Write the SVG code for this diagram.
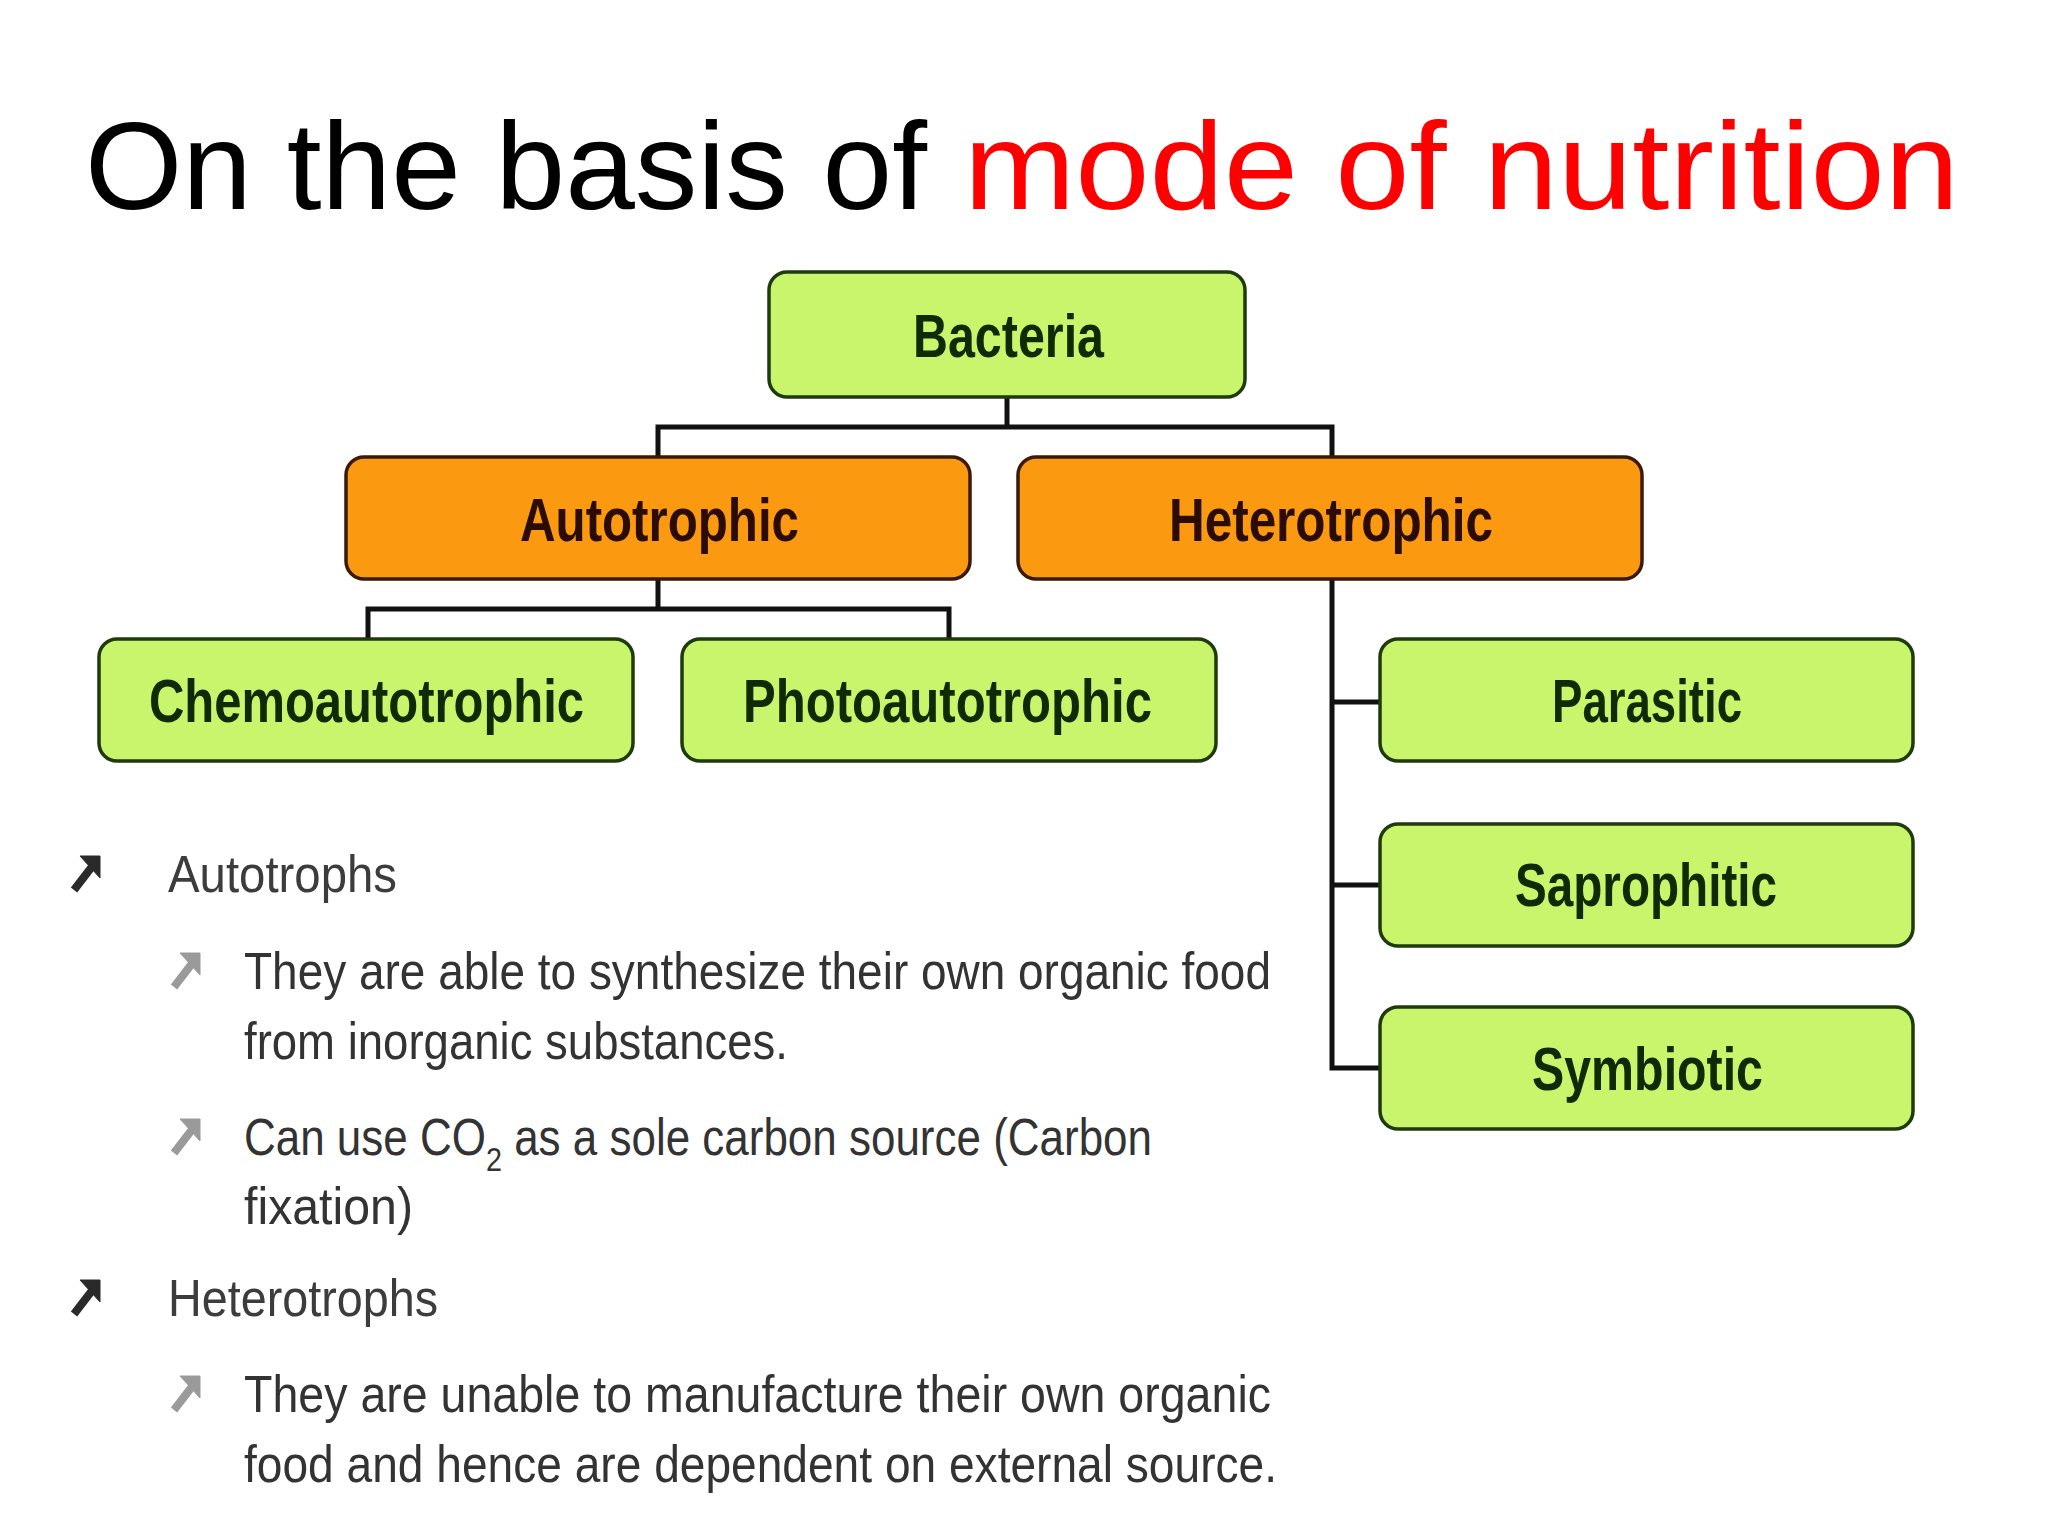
<svg xmlns="http://www.w3.org/2000/svg" width="2048" height="1536" viewBox="0 0 2048 1536">
<style>
.title{font-family:"Liberation Sans","Open Sans",sans-serif;font-size:124px}
.box-g{fill:#c8f56b;stroke:#1f3a0c;stroke-width:3.5}
.box-o{fill:#fb9a10;stroke:#3a1a00;stroke-width:3.5}
.lbl{font-family:"Liberation Sans","Open Sans",sans-serif;font-weight:bold;font-size:61px;text-anchor:start}
.lbl-g{fill:#102a06}
.lbl-o{fill:#2a0c00}
.conn{fill:none;stroke:#111;stroke-width:5;stroke-linecap:square}
.b1{font-family:"Liberation Sans","Open Sans",sans-serif;font-size:52px;fill:#3c3c3c}
.b2{font-family:"Liberation Sans","Open Sans",sans-serif;font-size:52px;fill:#333}
</style>
<defs>
<g id="arr">
<path d="M2,34 L22,8" fill="none" stroke-width="8" stroke-linecap="butt"/>
<path d="M8,0 L28,0 L28,22 Z"/>
</g>
</defs>
<rect width="2048" height="1536" fill="#ffffff"/>

<g id="title">
<text class="title" x="85" y="209" textLength="842" lengthAdjust="spacingAndGlyphs" fill="#000">On the basis of</text>
<text class="title" x="964" y="209" textLength="995" lengthAdjust="spacingAndGlyphs" fill="#ff0000">mode of nutrition</text>
</g>

<g id="connectors">
<path class="conn" d="M1007,397 V427 M658,427 H1332 M658,427 V457 M1332,427 V457"/>
<path class="conn" d="M658,579 V609 M368,609 H949 M368,609 V639 M949,609 V639"/>
<path class="conn" d="M1332,579 V1068 H1380 M1332,702 H1380 M1332,885 H1380"/>
</g>

<g id="node-bacteria">
<rect class="box-g" x="769" y="272" width="476" height="125" rx="18"/>
<text class="lbl lbl-g" x="913" y="357" textLength="191" lengthAdjust="spacingAndGlyphs">Bacteria</text>
</g>
<g id="node-autotrophic">
<rect class="box-o" x="346" y="457" width="624" height="122" rx="18"/>
<text class="lbl lbl-o" x="520" y="541" textLength="279" lengthAdjust="spacingAndGlyphs">Autotrophic</text>
</g>
<g id="node-heterotrophic">
<rect class="box-o" x="1018" y="457" width="624" height="122" rx="18"/>
<text class="lbl lbl-o" x="1169" y="541" textLength="324" lengthAdjust="spacingAndGlyphs">Heterotrophic</text>
</g>
<g id="node-chemoautotrophic">
<rect class="box-g" x="99" y="639" width="534" height="122" rx="18"/>
<text class="lbl lbl-g" x="149" y="722" textLength="435" lengthAdjust="spacingAndGlyphs">Chemoautotrophic</text>
</g>
<g id="node-photoautotrophic">
<rect class="box-g" x="682" y="639" width="534" height="122" rx="18"/>
<text class="lbl lbl-g" x="743" y="722" textLength="409" lengthAdjust="spacingAndGlyphs">Photoautotrophic</text>
</g>
<g id="node-parasitic">
<rect class="box-g" x="1380" y="639" width="533" height="122" rx="18"/>
<text class="lbl lbl-g" x="1552" y="722" textLength="190" lengthAdjust="spacingAndGlyphs">Parasitic</text>
</g>
<g id="node-saprophitic">
<rect class="box-g" x="1380" y="824" width="533" height="122" rx="18"/>
<text class="lbl lbl-g" x="1515" y="906" textLength="262" lengthAdjust="spacingAndGlyphs">Saprophitic</text>
</g>
<g id="node-symbiotic">
<rect class="box-g" x="1380" y="1007" width="533" height="122" rx="18"/>
<text class="lbl lbl-g" x="1532" y="1090" textLength="231" lengthAdjust="spacingAndGlyphs">Symbiotic</text>
</g>

<g id="bullets">
<use href="#arr" x="72" y="856" fill="#2a2a2a" stroke="#2a2a2a"/>
<text class="b1" x="168" y="892" textLength="229" lengthAdjust="spacingAndGlyphs">Autotrophs</text>

<use href="#arr" x="172" y="953" fill="#9a9a9a" stroke="#9a9a9a"/>
<text class="b2" x="244" y="989" textLength="1027" lengthAdjust="spacingAndGlyphs">They are able to synthesize their own organic food</text>
<text class="b2" x="244" y="1059" textLength="544" lengthAdjust="spacingAndGlyphs">from inorganic substances.</text>

<use href="#arr" x="172" y="1119" fill="#9a9a9a" stroke="#9a9a9a"/>
<text class="b2" x="244" y="1155" textLength="908" lengthAdjust="spacingAndGlyphs">Can use CO<tspan dy="16" font-size="34">2</tspan><tspan dy="-16"> as a sole carbon source (Carbon</tspan></text>
<text class="b2" x="244" y="1224" textLength="169" lengthAdjust="spacingAndGlyphs">fixation)</text>

<use href="#arr" x="72" y="1280" fill="#2a2a2a" stroke="#2a2a2a"/>
<text class="b1" x="168" y="1316" textLength="270" lengthAdjust="spacingAndGlyphs">Heterotrophs</text>

<use href="#arr" x="172" y="1376" fill="#9a9a9a" stroke="#9a9a9a"/>
<text class="b2" x="244" y="1412" textLength="1027" lengthAdjust="spacingAndGlyphs">They are unable to manufacture their own organic</text>
<text class="b2" x="244" y="1482" textLength="1033" lengthAdjust="spacingAndGlyphs">food and hence are dependent on external source.</text>
</g>
</svg>
